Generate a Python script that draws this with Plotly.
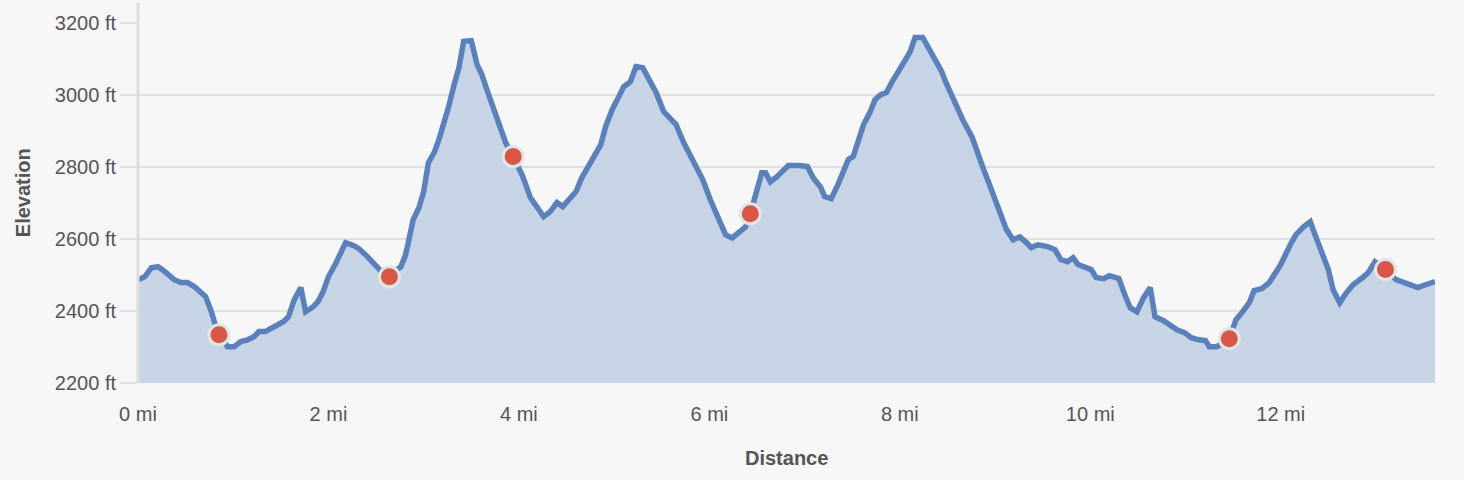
import plotly.graph_objects as go

# Elevation profile (distance in miles, elevation in feet)
dist_mi = [0.00, 0.07, 0.14, 0.21, 0.27, 0.38, 0.45, 0.52, 0.59, 0.66, 0.71, 0.77, 0.82,
           0.94, 1.01, 1.08, 1.15, 1.22, 1.27, 1.34, 1.42, 1.48, 1.53, 1.58, 1.64, 1.71,
           1.76, 1.84, 1.89, 1.94, 2.00, 2.08, 2.13, 2.18, 2.26, 2.32, 2.39, 2.47, 2.52,
           2.58, 2.64, 2.71, 2.76, 2.81, 2.89, 2.95, 3.00, 3.05, 3.11, 3.16, 3.21, 3.26,
           3.32, 3.37, 3.42, 3.50, 3.56, 3.61, 3.67, 3.73, 3.79, 3.86, 3.94, 4.04, 4.12,
           4.20, 4.26, 4.33, 4.40, 4.46, 4.52, 4.60, 4.66, 4.72, 4.78, 4.86, 4.91, 4.98,
           5.05, 5.10, 5.17, 5.23, 5.30, 5.36, 5.44, 5.52, 5.57, 5.65, 5.73, 5.82, 5.93,
           6.01, 6.10, 6.17, 6.24, 6.33, 6.38, 6.43, 6.48, 6.55, 6.59, 6.64, 6.71, 6.78,
           6.83, 6.94, 7.03, 7.09, 7.17, 7.21, 7.28, 7.35, 7.41, 7.46, 7.51, 7.57, 7.62,
           7.69, 7.74, 7.80, 7.86, 7.92, 7.99, 8.06, 8.11, 8.16, 8.24, 8.31, 8.38, 8.44,
           8.48, 8.55, 8.61, 8.67, 8.76, 8.81, 8.88, 8.93, 8.99, 9.05, 9.12, 9.19, 9.26,
           9.33, 9.38, 9.45, 9.55, 9.63, 9.69, 9.76, 9.82, 9.87, 9.95, 10.01, 10.06, 10.14,
           10.20, 10.30, 10.37, 10.42, 10.49, 10.56, 10.63, 10.68, 10.77, 10.84, 10.91,
           10.99, 11.06, 11.14, 11.21, 11.25, 11.33, 11.46, 11.53, 11.60, 11.67, 11.72,
           11.80, 11.88, 11.95, 12.00, 12.10, 12.16, 12.24, 12.31, 12.38, 12.50, 12.55,
           12.62, 12.69, 12.76, 12.86, 12.92, 12.99, 13.10, 13.21, 13.31, 13.37, 13.44,
           13.52, 13.62]
elev_ft = [2487, 2495, 2520, 2523, 2512, 2487, 2479, 2479, 2468, 2454, 2440, 2398, 2354,
           2301, 2301, 2315, 2320, 2329, 2343, 2343, 2354, 2362, 2371, 2384, 2431, 2465,
           2398, 2412, 2426, 2451, 2495, 2534, 2562, 2590, 2582, 2573, 2556, 2537, 2520,
           2502, 2495, 2512, 2523, 2556, 2654, 2687, 2732, 2812, 2840, 2876, 2918, 2965,
           3029, 3076, 3149, 3151, 3085, 3057, 3010, 2965, 2926, 2868, 2829, 2774, 2715,
           2682, 2662, 2676, 2701, 2690, 2709, 2732, 2770, 2798, 2829, 2862, 2912, 2960,
           2996, 3023, 3037, 3079, 3076, 3043, 3007, 2954, 2940, 2918, 2868, 2821, 2765,
           2709, 2659, 2612, 2603, 2620, 2634, 2670, 2718, 2784, 2784, 2759, 2773, 2793,
           2804, 2804, 2801, 2770, 2743, 2718, 2712, 2751, 2793, 2821, 2829, 2876, 2918,
           2954, 2987, 3001, 3007, 3037, 3065, 3098, 3121, 3160, 3160, 3127, 3090, 3065,
           3037, 2993, 2960, 2926, 2882, 2840, 2793, 2759, 2715, 2673, 2626, 2598, 2606,
           2590, 2576, 2584, 2579, 2570, 2543, 2537, 2548, 2529, 2523, 2515, 2493, 2490,
           2498, 2490, 2440, 2409, 2398, 2437, 2465, 2384, 2373, 2359, 2348,
           2340, 2326, 2320, 2318, 2301, 2301, 2323, 2376, 2398, 2423, 2457,
           2462, 2479, 2507, 2529, 2584, 2612, 2634, 2648, 2598, 2515, 2459,
           2423, 2451, 2473, 2493, 2507, 2537, 2515, 2487, 2479, 2473, 2465,
           2473, 2482]

# Waypoints (red markers)
wp_mi = [0.85, 2.64, 3.94, 6.43, 11.46, 13.10]
wp_ft = [2334, 2495, 2829, 2670, 2323, 2515]

x_ticks = [0, 2, 4, 6, 8, 10, 12]
x_tick_labels = ["0 mi", "2 mi", "4 mi", "6 mi", "8 mi", "10 mi", "12 mi"]
y_ticks = [2200, 2400, 2600, 2800, 3000, 3200]
y_tick_labels = ["2200 ft", "2400 ft", "2600 ft", "2800 ft", "3000 ft", "3200 ft"]

FONT = "Liberation Sans, Arial, Helvetica, sans-serif"
GRID = "#e0e0e0"

fig = go.Figure()
fig.add_trace(go.Scatter(
    x=dist_mi, y=elev_ft, mode="lines",
    line=dict(color="#5a81bb", width=5.5, shape="linear"),
    fill="tozeroy", fillcolor="#c7d4e5",
    hoverinfo="skip", showlegend=False,
))
fig.add_trace(go.Scatter(
    x=wp_mi, y=wp_ft, mode="markers",
    marker=dict(color="#d95545", size=20, line=dict(color="#dfe6e6", width=3)),
    showlegend=False, cliponaxis=False,
))

fig.update_layout(
    width=1464, height=480,
    margin=dict(l=138, r=29, t=23, b=97),
    paper_bgcolor="#f7f7f7", plot_bgcolor="#f7f7f7",
    font=dict(family=FONT, size=20, color="#555555"),
    xaxis=dict(
        range=[0, 13.62], tickmode="array", tickvals=x_ticks, ticktext=x_tick_labels,
        showgrid=False, zeroline=False, showline=False,
        ticks="outside", ticklen=13, tickcolor="rgba(0,0,0,0)",
        tickfont=dict(size=20, color="#555555"),
    ),
    yaxis=dict(
        range=[2200, 3200], tickmode="array", tickvals=y_ticks, ticktext=y_tick_labels,
        showgrid=True, gridcolor=GRID, gridwidth=2, zeroline=False,
        showline=False,
        ticks="outside", ticklen=17, tickwidth=2, tickcolor=GRID,
        tickfont=dict(size=20, color="#555555"),
    ),
    shapes=[dict(type="line", xref="paper", yref="paper", x0=0, x1=0, y0=0, y1=1.056,
                 line=dict(color="#dddddd", width=3), layer="above")],
    annotations=[
        dict(text="<b>Distance</b>", xref="paper", yref="paper", x=0.5, y=-0.208,
             xanchor="center", yanchor="middle", showarrow=False,
             font=dict(size=20, color="#555555", family=FONT)),
        dict(text="<b>Elevation</b>", xref="paper", yref="paper", x=-0.0887, y=0.53,
             xanchor="center", yanchor="middle", showarrow=False, textangle=-90,
             font=dict(size=20, color="#555555", family=FONT)),
    ],
)

fig.write_html("out.html")
